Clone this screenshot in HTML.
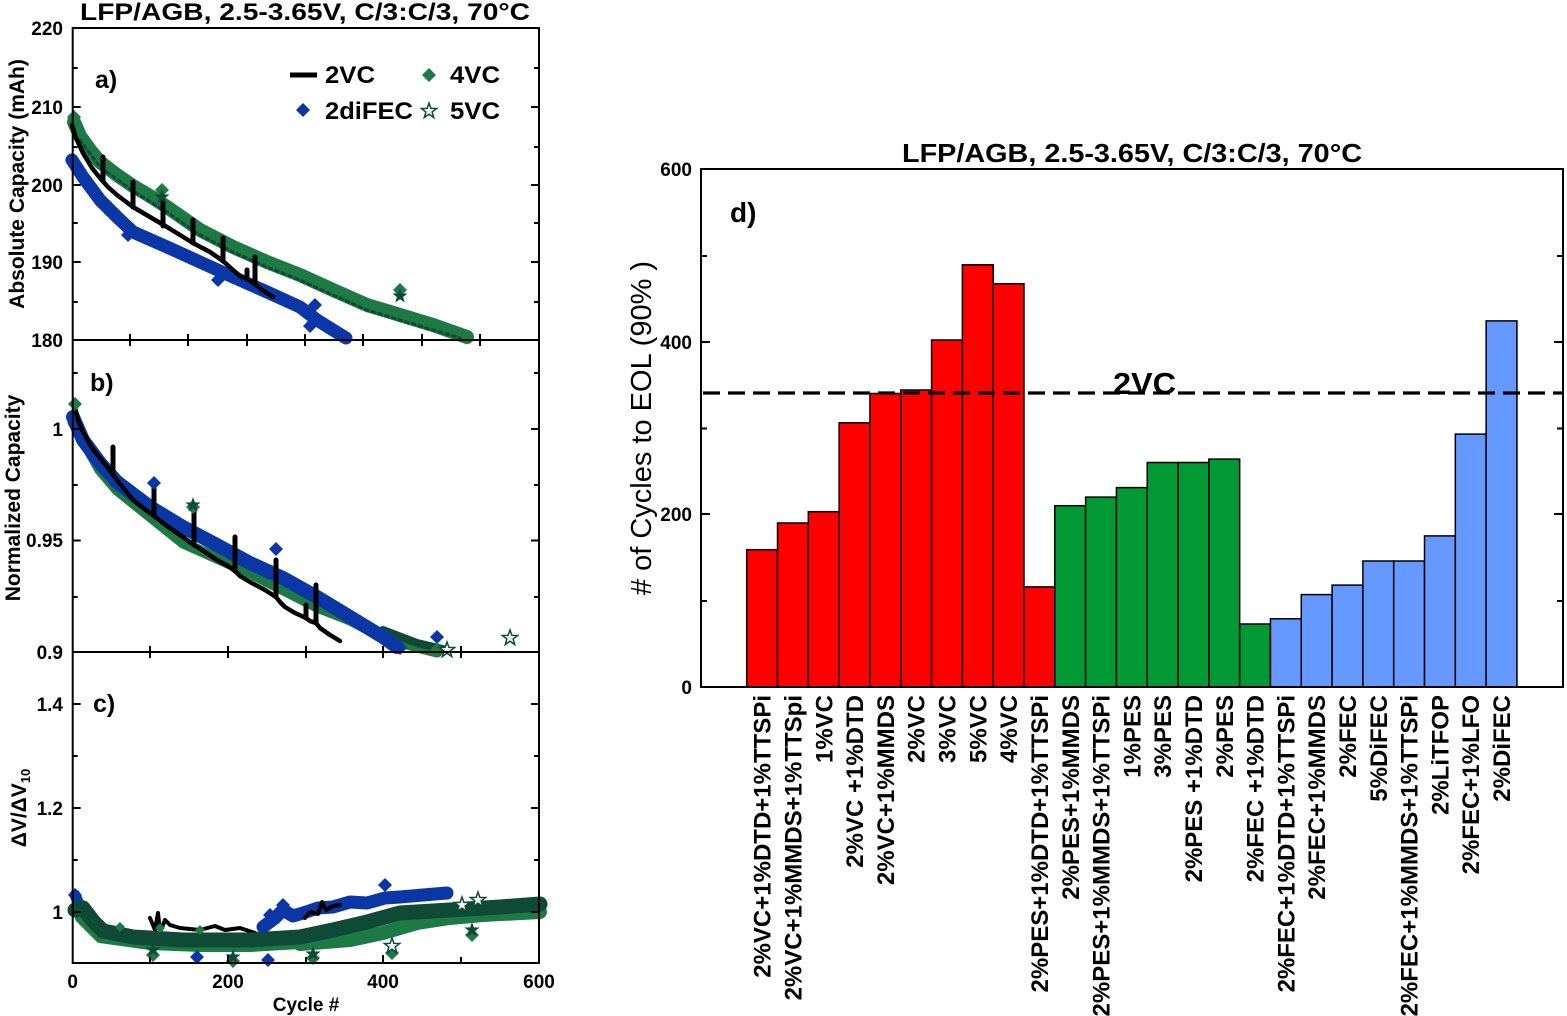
<!DOCTYPE html>
<html><head><meta charset="utf-8"><style>
html,body{margin:0;padding:0;background:#fff;}
svg{display:block;}
text{font-family:"Liberation Sans",Arial,sans-serif;fill:#000;}
</style></head><body>
<svg width="1567" height="1016" viewBox="0 0 1567 1016" xmlns="http://www.w3.org/2000/svg">
<rect width="1567" height="1016" fill="#fff"/>
<defs>
<polygon id="dm" points="0,-7 7,0 0,7 -7,0"/>
<polygon id="sd" points="0,-5 5,0 0,5 -5,0"/>
<polygon id="st" points="0,-8 1.9,-2.6 7.6,-2.5 3.1,1 4.7,6.5 0,3.2 -4.7,6.5 -3.1,1 -7.6,-2.5 -1.9,-2.6"/>
</defs>

<!-- ============ LEFT PANELS ============ -->
<text x="305" y="20" font-size="24" font-weight="bold" text-anchor="middle" textLength="450" lengthAdjust="spacingAndGlyphs">LFP/AGB, 2.5-3.65V, C/3:C/3, 70°C</text>

<!-- Panel a data -->
<g fill="none" stroke-linejoin="round" stroke-linecap="round">
<polyline stroke="#1e7a44" stroke-width="14" points="74,122 80,136 90,150 100,162 117,175 133,186 150,196 167,207 200,230 233,247 267,262 300,275 333,290 367,305 400,315 433,325 467,337"/>
<polyline stroke="#0e4a35" stroke-width="3" stroke-dasharray="3 4" points="80,140 100,167 133,191 167,212 200,235 233,252 267,267 300,280 333,295 367,310 400,320 433,330 460,338"/>
<polyline stroke="#0b37a6" stroke-width="13" points="72,160 83,177 100,200 117,217 133,232 167,247 200,262 233,277 267,292 300,307 317,320 333,330 346,338"/>
<polyline stroke="#000" stroke-width="4.5" points="72,125 76,138 83,153 92,168 100,178 108,187 117,195 125,201 133,207 150,217 167,227 180,235 193,243 210,252 223,261 233,270 240,276 247,279 255,284 262,290 273,297"/>
<g stroke="#000" stroke-width="5">
<line x1="103" y1="180" x2="103" y2="157"/><line x1="133" y1="207" x2="133" y2="182"/><line x1="163" y1="226" x2="163" y2="202"/><line x1="193" y1="243" x2="193" y2="220"/><line x1="223" y1="261" x2="223" y2="238"/><line x1="247" y1="279" x2="247" y2="270"/><line x1="255" y1="284" x2="255" y2="257"/>
</g>
</g>
<use href="#dm" x="74" y="117" fill="#1e7a44"/>
<use href="#dm" x="162" y="190" fill="#1e7a44"/>
<use href="#st" x="162" y="197" fill="#0e4a35"/>
<use href="#dm" x="400" y="290" fill="#1e7a44"/>
<use href="#st" x="400" y="296" fill="#0e4a35"/>
<use href="#dm" x="128" y="235" fill="#0b37a6"/>
<use href="#dm" x="315" y="305" fill="#0b37a6"/>
<use href="#dm" x="72" y="160" fill="#0b37a6"/>
<use href="#dm" x="310" y="326" fill="#0b37a6"/>
<use href="#dm" x="218" y="280" fill="#0b37a6"/>

<!-- Panel b data -->
<g fill="none" stroke-linejoin="round" stroke-linecap="round">
<polyline stroke="#1e7a44" stroke-width="11" points="73,422 100,470 117,490 183,543 250,573 317,607 350,620 383,637 417,647 437,652"/>
<polyline stroke="#0e4a35" stroke-width="8" points="383,630 417,643 447,650"/>
<polyline stroke="#0b37a6" stroke-width="14" points="73,417 83,440 100,463 117,482 150,507 183,527 217,545 250,563 283,578 317,597 350,617 383,637 397,647"/>
<polyline stroke="#000" stroke-width="4.5" points="74,403 78,420 83,432 92,448 100,458 108,468 117,480 125,490 133,500 143,508 154,516 167,526 180,535 194,545 205,552 217,560 228,566 235,571 240,576 250,582 265,590 276,597 280,602 285,607 295,613 306,618 310,621 316,623 320,628 330,635 340,641"/>
<g stroke="#000" stroke-width="5">
<line x1="113" y1="473" x2="113" y2="447"/><line x1="154" y1="516" x2="154" y2="482"/><line x1="194" y1="545" x2="194" y2="508"/><line x1="235" y1="571" x2="235" y2="537"/><line x1="276" y1="597" x2="276" y2="560"/><line x1="306" y1="618" x2="306" y2="605"/><line x1="316" y1="623" x2="316" y2="585"/>
</g>
</g>
<use href="#dm" x="75" y="404" fill="#1e7a44"/>
<use href="#dm" x="154" y="483" fill="#0b37a6"/>
<use href="#dm" x="276" y="549" fill="#0b37a6"/>
<use href="#dm" x="437" y="637" fill="#0b37a6"/>
<use href="#dm" x="393" y="645" fill="#0b37a6"/>
<use href="#dm" x="400" y="648" fill="#0b37a6"/>
<use href="#dm" x="193" y="507" fill="#1e7a44"/>
<use href="#st" x="193" y="505" fill="#0e4a35"/>
<use href="#dm" x="437" y="650" fill="#1e7a44"/>
<use href="#st" x="510" y="638" fill="#fff" stroke="#0e4a35" stroke-width="1.5"/>
<use href="#st" x="447" y="650" fill="#fff" stroke="#0e4a35" stroke-width="1.5"/>

<!-- Panel c data -->
<g fill="none" stroke-linejoin="round" stroke-linecap="round">
<polyline stroke="#0b37a6" stroke-width="11" points="75,895 83,913 100,933 120,938"/>
<polyline stroke="#0b37a6" stroke-width="13" points="263,927 275,918 283,910 293,916 303,913 318,908 333,907 350,902 367,903 385,898 400,897 423,895 447,893"/>
<polyline stroke="#000" stroke-width="4" points="150,918 155,930 158,913 160,932 165,920 170,925 180,928 200,930 215,926 225,930 240,928 255,933 262,938"/>
<polyline stroke="#000" stroke-width="4" points="305,918 310,912 318,914 322,902 326,910 333,906 340,905"/>
<polyline stroke="#1e7a44" stroke-width="14" points="300,944 350,940 383,933 417,923 450,918 483,915 540,912"/>
<polyline stroke="#1e7a44" stroke-width="10" points="80,918 100,938 150,945 200,947 250,947 300,944"/>
<polyline stroke="#0e4a35" stroke-width="15" points="75,910 83,908 93,921 103,931 133,937 183,940 250,940 300,937 333,930 367,922 400,913 433,911 467,909 500,907 540,904"/>
</g>
<use href="#dm" x="75" y="895" fill="#0b37a6"/>
<use href="#dm" x="385" y="885" fill="#0b37a6"/>
<use href="#dm" x="197" y="957" fill="#0b37a6"/>
<use href="#dm" x="268" y="960" fill="#0b37a6"/>
<use href="#dm" x="283" y="905" fill="#0b37a6"/>
<use href="#dm" x="270" y="915" fill="#0b37a6"/>
<use href="#dm" x="153" y="955" fill="#1e7a44"/>
<use href="#dm" x="233" y="961" fill="#1e7a44"/>
<use href="#dm" x="313" y="958" fill="#1e7a44"/>
<use href="#dm" x="392" y="953" fill="#1e7a44"/>
<use href="#dm" x="472" y="935" fill="#1e7a44"/>
<use href="#st" x="153" y="950" fill="#0e4a35"/>
<use href="#st" x="233" y="957" fill="#0e4a35"/>
<use href="#st" x="313" y="954" fill="#0e4a35"/>
<use href="#st" x="472" y="930" fill="#0e4a35"/>
<use href="#st" x="392" y="946" fill="#fff" stroke="#0e4a35" stroke-width="1.5"/>
<use href="#st" x="462" y="905" fill="#fff" stroke="#0e4a35" stroke-width="1.5"/>
<use href="#st" x="478" y="900" fill="#fff" stroke="#0e4a35" stroke-width="1.5"/>
<use href="#sd" x="160" y="928" fill="#1e7a44"/>
<use href="#sd" x="200" y="930" fill="#1e7a44"/>
<use href="#sd" x="120" y="927" fill="#1e7a44"/>

<!-- Left frames -->
<g stroke="#000" stroke-width="2" fill="none">
<rect x="72.7" y="28" width="466.3" height="935"/>
<line x1="72.7" y1="340" x2="539" y2="340"/>
<line x1="72.7" y1="652" x2="539" y2="652"/>
<path d="M72.7,28h8M72.7,107h8M72.7,185h8M72.7,262h8M72.7,340h8M72.7,68h5M72.7,147h5M72.7,223h5M72.7,302h5"/>
<path d="M539,107h-8M539,185h-8M539,262h-8M539,68h-5M539,147h-5M539,223h-5M539,302h-5"/>
<path d="M130,334v12M188,334v12M247,334v12M305,334v12M363,334v12M422,334v12M480,334v12"/>
<path d="M72.7,429h8M72.7,540.5h8M72.7,373h5M72.7,485h5M72.7,597h5"/>
<path d="M539,429h-8M539,540.5h-8M539,373h-5M539,485h-5M539,597h-5"/>
<path d="M150,646v12M228,646v12M306,646v12M383,646v12M461,646v12"/>
<path d="M72.7,704h8M72.7,808h8M72.7,912h8M72.7,756h5M72.7,860h5"/>
<path d="M539,704h-8M539,808h-8M539,912h-8M539,756h-5M539,860h-5"/>
<path d="M150,963v-6M228,963v-8M306,963v-6M383,963v-8M461,963v-6"/>
</g>

<!-- Left tick labels -->
<g font-size="19" font-weight="bold" text-anchor="end">
<text x="63" y="35">220</text><text x="63" y="114">210</text><text x="63" y="192">200</text><text x="63" y="269">190</text><text x="63" y="347">180</text>
<text x="63" y="436">1</text><text x="63" y="547">0.95</text><text x="63" y="659">0.9</text>
<text x="63" y="711">1.4</text><text x="63" y="815">1.2</text><text x="63" y="919">1</text>
</g>
<g font-size="19" font-weight="bold" text-anchor="middle">
<text x="72.7" y="988">0</text><text x="228" y="988">200</text><text x="383" y="988">400</text><text x="539" y="988">600</text>
<text x="306" y="1011">Cycle #</text>
</g>
<g font-size="21" font-weight="bold" text-anchor="middle">
<text transform="translate(24,184) rotate(-90)">Absolute Capacity (mAh)</text>
<text transform="translate(20,498) rotate(-90)">Normalized Capacity</text>
<text transform="translate(26,808) rotate(-90)">ΔV/ΔV<tspan font-size="13" dy="4">10</tspan></text>
</g>
<g font-size="25" font-weight="bold">
<text x="95" y="88">a)</text><text x="90" y="391">b)</text><text x="93" y="712">c)</text>
</g>

<!-- Legend -->
<line x1="290" y1="75" x2="317" y2="75" stroke="#000" stroke-width="5"/>
<use href="#dm" x="429" y="75" fill="#1e7a44"/>
<use href="#dm" x="303" y="110" fill="#0b37a6"/>
<use href="#st" x="429" y="111" fill="#fff" stroke="#0e4a35" stroke-width="1.5"/>
<g font-size="24" font-weight="bold">
<text x="325" y="83" textLength="50" lengthAdjust="spacingAndGlyphs">2VC</text>
<text x="450" y="83" textLength="50" lengthAdjust="spacingAndGlyphs">4VC</text>
<text x="325" y="119" textLength="88" lengthAdjust="spacingAndGlyphs">2diFEC</text>
<text x="450" y="119" textLength="50" lengthAdjust="spacingAndGlyphs">5VC</text>
</g>

<!-- ============ RIGHT PANEL ============ -->
<text x="1132" y="162" font-size="26" font-weight="bold" text-anchor="middle" textLength="460" lengthAdjust="spacingAndGlyphs">LFP/AGB, 2.5-3.65V, C/3:C/3, 70°C</text>

<g stroke="#000" stroke-width="1.5">
<rect x="746.70" y="549.7" width="30.81" height="137.3" fill="#ff0000"/>
<rect x="777.51" y="523.0" width="30.81" height="164.0" fill="#ff0000"/>
<rect x="808.32" y="511.7" width="30.81" height="175.3" fill="#ff0000"/>
<rect x="839.13" y="422.8" width="30.81" height="264.2" fill="#ff0000"/>
<rect x="869.94" y="393.5" width="30.81" height="293.5" fill="#ff0000"/>
<rect x="900.75" y="390.0" width="30.81" height="297.0" fill="#ff0000"/>
<rect x="931.56" y="340.0" width="30.81" height="347.0" fill="#ff0000"/>
<rect x="962.37" y="264.8" width="30.81" height="422.2" fill="#ff0000"/>
<rect x="993.18" y="283.8" width="30.81" height="403.2" fill="#ff0000"/>
<rect x="1023.99" y="586.9" width="30.81" height="100.1" fill="#ff0000"/>
<rect x="1054.80" y="505.7" width="30.81" height="181.3" fill="#009933"/>
<rect x="1085.61" y="497.1" width="30.81" height="189.9" fill="#009933"/>
<rect x="1116.42" y="487.6" width="30.81" height="199.4" fill="#009933"/>
<rect x="1147.23" y="462.5" width="30.81" height="224.5" fill="#009933"/>
<rect x="1178.04" y="462.5" width="30.81" height="224.5" fill="#009933"/>
<rect x="1208.85" y="459.1" width="30.81" height="227.9" fill="#009933"/>
<rect x="1239.66" y="624.0" width="30.81" height="63.0" fill="#009933"/>
<rect x="1270.47" y="618.8" width="30.81" height="68.2" fill="#6699ff"/>
<rect x="1301.28" y="594.6" width="30.81" height="92.4" fill="#6699ff"/>
<rect x="1332.09" y="585.1" width="30.81" height="101.9" fill="#6699ff"/>
<rect x="1362.90" y="561.0" width="30.81" height="126.0" fill="#6699ff"/>
<rect x="1393.71" y="561.0" width="30.81" height="126.0" fill="#6699ff"/>
<rect x="1424.52" y="535.9" width="30.81" height="151.1" fill="#6699ff"/>
<rect x="1455.33" y="434.1" width="30.81" height="252.9" fill="#6699ff"/>
<rect x="1486.14" y="320.9" width="30.81" height="366.1" fill="#6699ff"/>
</g>

<text x="1113" y="394" font-size="31" font-weight="bold" textLength="63" lengthAdjust="spacingAndGlyphs">2VC</text>
<line x1="703" y1="393" x2="1563" y2="393" stroke="#000" stroke-width="3.2" stroke-dasharray="17 8"/>

<g stroke="#000" stroke-width="2" fill="none">
<rect x="701" y="169" width="862" height="518"/>
<path d="M701,169h9M701,342h9M701,514h9M701,256h6M701,428.5h6M701,601h6"/>
<path d="M1563,169h-9M1563,342h-9M1563,514h-9M1563,256h-6M1563,428.5h-6M1563,601h-6"/>
</g>

<g font-size="19" font-weight="bold" text-anchor="end">
<text x="692" y="176">600</text><text x="692" y="349">400</text><text x="692" y="521">200</text><text x="692" y="694">0</text>
</g>
<text transform="translate(651,428) rotate(-90)" font-size="29" text-anchor="middle">#  of Cycles to EOL (90% )</text>
<text x="730" y="222" font-size="28" font-weight="bold">d)</text>

<g font-size="24" font-weight="bold" text-anchor="end">
<text transform="translate(770.7,695) rotate(-90)">2%VC+1%DTD+1%TTSPi</text>
<text transform="translate(801.5,695) rotate(-90)">2%VC+1%MMDS+1%TTSpi</text>
<text transform="translate(832.3,695) rotate(-90)">1%VC</text>
<text transform="translate(863.1,695) rotate(-90)">2%VC +1%DTD</text>
<text transform="translate(893.9,695) rotate(-90)">2%VC+1%MMDS</text>
<text transform="translate(924.7,695) rotate(-90)">2%VC</text>
<text transform="translate(955.5,695) rotate(-90)">3%VC</text>
<text transform="translate(986.4,695) rotate(-90)">5%VC</text>
<text transform="translate(1017.2,695) rotate(-90)">4%VC</text>
<text transform="translate(1048.0,695) rotate(-90)">2%PES+1%DTD+1%TTSPi</text>
<text transform="translate(1078.8,695) rotate(-90)">2%PES+1%MMDS</text>
<text transform="translate(1109.6,695) rotate(-90)">2%PES+1%MMDS+1%TTSPi</text>
<text transform="translate(1140.4,695) rotate(-90)">1%PES</text>
<text transform="translate(1171.2,695) rotate(-90)">3%PES</text>
<text transform="translate(1202.0,695) rotate(-90)">2%PES +1%DTD</text>
<text transform="translate(1232.8,695) rotate(-90)">2%PES</text>
<text transform="translate(1263.6,695) rotate(-90)">2%FEC +1%DTD</text>
<text transform="translate(1294.4,695) rotate(-90)">2%FEC+1%DTD+1%TTSPi</text>
<text transform="translate(1325.2,695) rotate(-90)">2%FEC+1%MMDS</text>
<text transform="translate(1356.0,695) rotate(-90)">2%FEC</text>
<text transform="translate(1386.8,695) rotate(-90)">5%DiFEC</text>
<text transform="translate(1417.6,695) rotate(-90)">2%FEC+1%MMDS+1%TTSPi</text>
<text transform="translate(1448.4,695) rotate(-90)">2%LiTFOP</text>
<text transform="translate(1479.2,695) rotate(-90)">2%FEC+1%LFO</text>
<text transform="translate(1510.0,695) rotate(-90)">2%DiFEC</text>
</g>
</svg>
</body></html>
